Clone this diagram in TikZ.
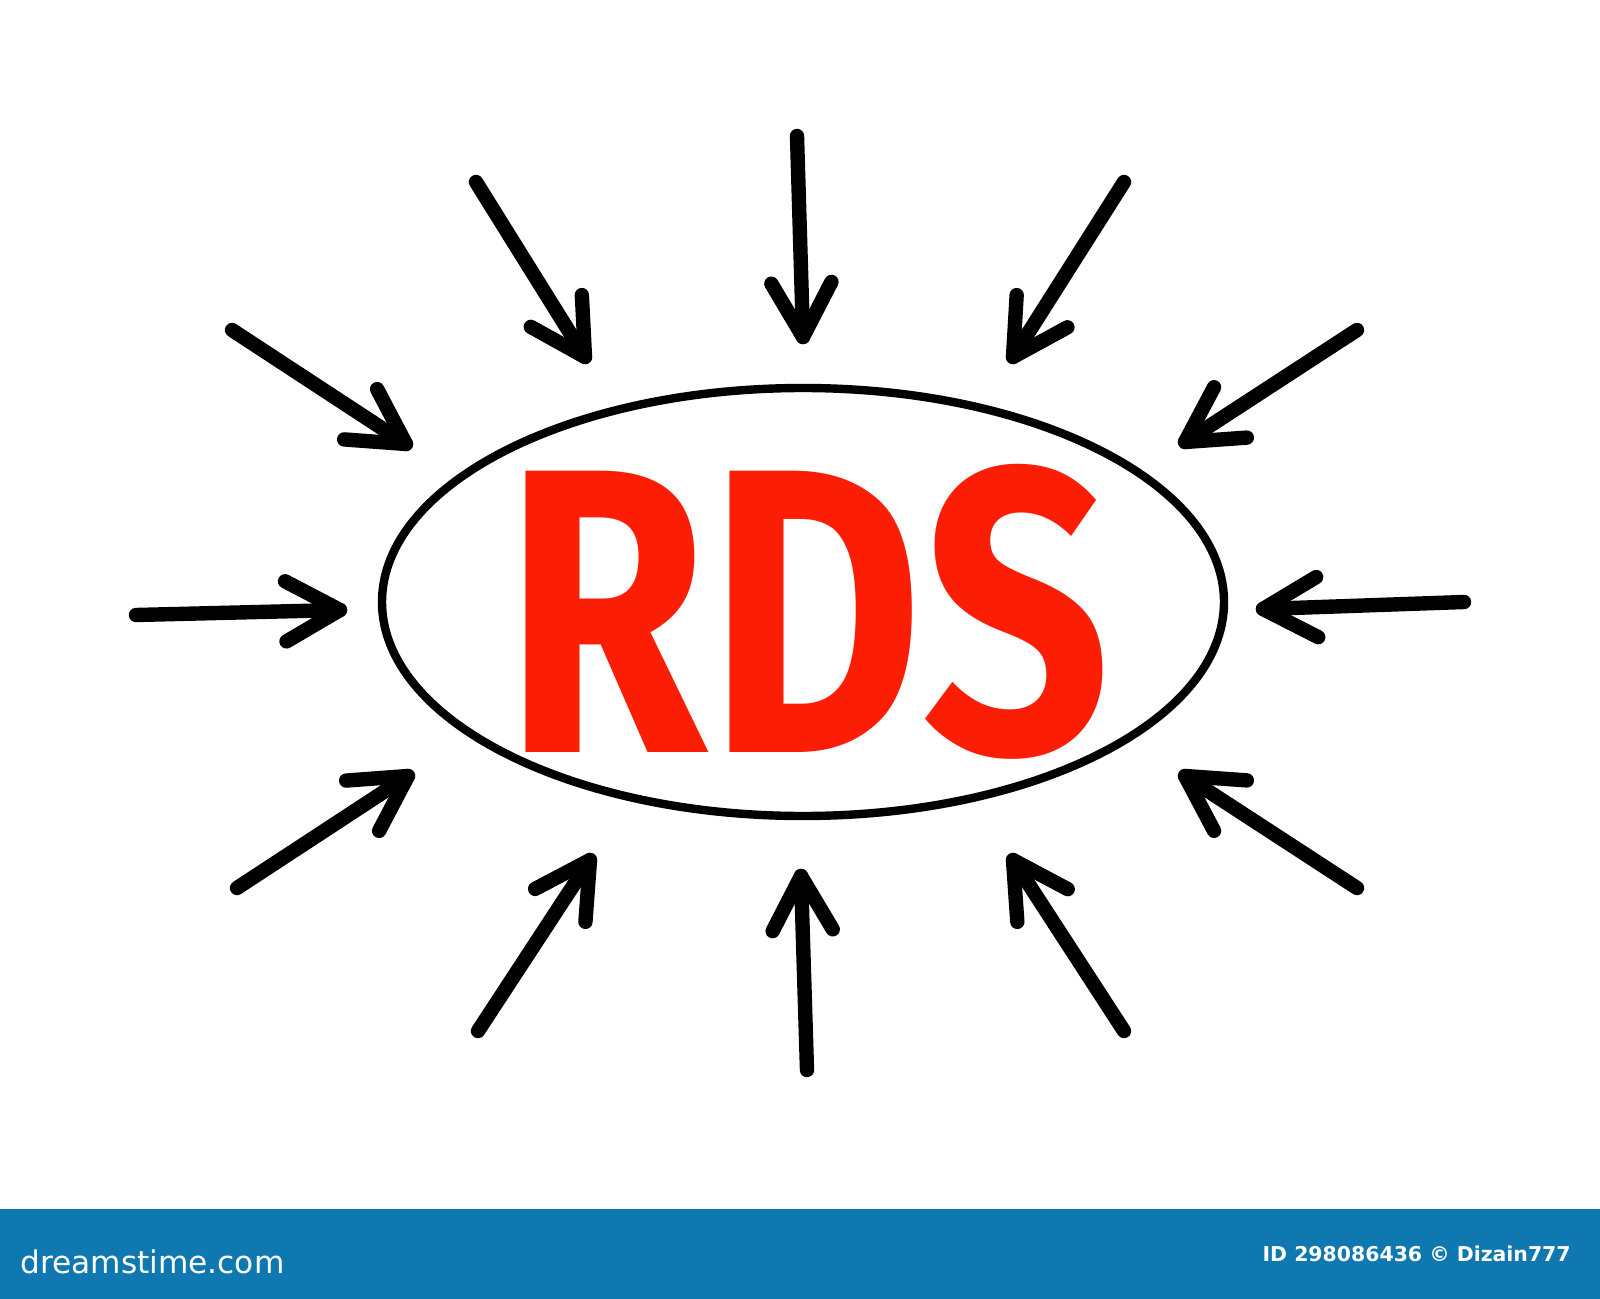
\documentclass[tikz,border=0pt]{standalone}
\usepackage{fontspec}
\setmainfont{Liberation Sans}
\newfontfamily\rdsfont{Fira Sans}
\newfontfamily\barfont{DejaVu Sans}
\usetikzlibrary{calc,shapes.geometric}
\definecolor{rdsred}{RGB}{252,30,4}
\definecolor{barblue}{RGB}{16,120,176}
\tikzset{
  arrowline/.style={line width=7.2pt,line cap=round,line join=round,black},
  ringline/.style={line width=4.2pt,black},
}
\begin{document}
\begin{tikzpicture}[x=0.5pt,y=-0.5pt]
\useasboundingbox (0,0) rectangle (1600,1299);
\fill[white] (0,0) rectangle (1600,1299);
% bottom bar
\fill[barblue] (0,1209) rectangle (1600,1299);
\node[anchor=west,inner sep=0,text=white] (logo) at (20,1262) {\resizebox{132pt}{!}{\barfont dreamstime.com}};
\node[anchor=east,inner sep=0,text=white] (credit) at (1571,1254) {\resizebox{154pt}{!}{\barfont\bfseries ID 298086436 © Dizain777}};
% ellipse
\node[draw,ringline,ellipse,minimum width=421pt,minimum height=214pt,inner sep=0] (ring) at (803,602) {};
% text
\node[inner sep=0,text=rdsred] (rds) at (808,612) {\resizebox{303pt}{144pt}{\rdsfont\bfseries RDS}};
% arrows
\foreach \i/\sx/\sy/\tx/\ty in {
  1/797/136/803/337,
  2/476/182/585/357,
  3/1124/182/1013/357,
  4/232/330/406/444,
  5/1357/330/1185/442,
  6/136/615/340/610,
  7/1464/602/1263/609,
  8/237/888/408/776,
  9/1357/888/1185/776,
  10/478/1031/590/860,
  11/807/1070/801/876,
  12/1124/1031/1013/860}{
  \coordinate (s\i) at (\sx,\sy);
  \coordinate (t\i) at (\tx,\ty);
  \draw[arrowline] (s\i) -- (t\i);
  \draw[arrowline] ($(t\i)!31pt!29:(s\i)$) -- (t\i) -- ($(t\i)!31pt!-29:(s\i)$);
}
\end{tikzpicture}
\end{document}
